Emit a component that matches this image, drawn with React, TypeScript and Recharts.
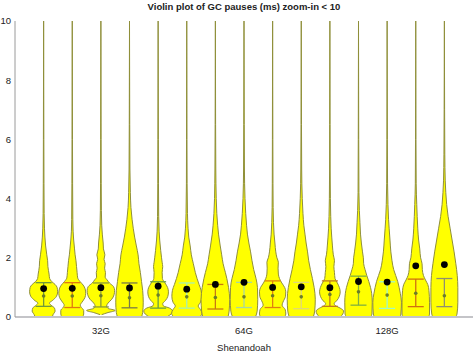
import React from "react";
import { ComposedChart, Area, Scatter, ErrorBar, XAxis, YAxis } from "recharts";

const groups = ["32G", "64G", "128G"];
const groupTicks = [3, 8, 13];
const yTicks = [0, 2, 4, 6, 8, 10];

// violin outlines: [pause (ms), half width]
const v1 = [[0, 0.3], [0.08, 0.33], [0.2, 0.4], [0.3, 0.38], [0.4, 0.26], [0.47, 0.2], [0.55, 0.3], [0.7, 0.45], [0.85, 0.49], [1.0, 0.47], [1.1, 0.4], [1.2, 0.28], [1.3, 0.21], [1.45, 0.19], [1.7, 0.15], [1.9, 0.14], [2.1, 0.11], [2.4, 0.07], [2.7, 0.045], [3.0, 0.03], [3.5, 0.018], [4.5, 0.012], [6, 0.008], [10, 0]];
const v2 = [[0, 0.36], [0.1, 0.4], [0.22, 0.4], [0.32, 0.32], [0.4, 0.28], [0.5, 0.34], [0.65, 0.44], [0.8, 0.47], [0.95, 0.45], [1.08, 0.38], [1.2, 0.27], [1.32, 0.19], [1.5, 0.17], [1.7, 0.15], [1.9, 0.13], [2.1, 0.1], [2.3, 0.08], [2.6, 0.05], [2.9, 0.03], [3.3, 0.02], [4.5, 0.012], [6, 0.008], [10, 0]];
const v3 = [[0.08, 0.03], [0.15, 0.25], [0.22, 0.5], [0.29, 0.25], [0.37, 0.2], [0.47, 0.25], [0.6, 0.38], [0.75, 0.46], [0.9, 0.48], [1.03, 0.44], [1.15, 0.3], [1.25, 0.22], [1.35, 0.15], [1.5, 0.16], [1.65, 0.13], [1.8, 0.15], [1.95, 0.11], [2.1, 0.14], [2.3, 0.09], [2.5, 0.08], [2.8, 0.05], [3.1, 0.03], [3.6, 0.018], [4.5, 0.012], [6, 0.008], [10, 0]];
const v4 = [[0, 0.42], [0.15, 0.46], [0.5, 0.48], [0.9, 0.46], [1.2, 0.42], [1.5, 0.38], [1.8, 0.33], [2.1, 0.3], [2.4, 0.24], [2.7, 0.18], [3.0, 0.13], [3.3, 0.09], [3.7, 0.05], [4.2, 0.03], [5, 0.015], [6.5, 0.008], [10, 0]];
const v5 = [[0, 0.3], [0.1, 0.45], [0.2, 0.5], [0.3, 0.4], [0.38, 0.18], [0.45, 0.16], [0.55, 0.25], [0.7, 0.34], [0.85, 0.36], [1.0, 0.33], [1.15, 0.24], [1.3, 0.15], [1.5, 0.14], [1.7, 0.16], [1.85, 0.14], [2.0, 0.12], [2.25, 0.09], [2.6, 0.055], [2.9, 0.035], [3.4, 0.02], [4.5, 0.012], [6, 0.008], [10, 0]];
const v6 = [[0, 0.45], [0.12, 0.53], [0.25, 0.48], [0.37, 0.4], [0.5, 0.48], [0.7, 0.52], [0.9, 0.5], [1.1, 0.43], [1.3, 0.36], [1.5, 0.3], [1.8, 0.23], [2.1, 0.16], [2.4, 0.12], [2.7, 0.07], [3.0, 0.045], [3.5, 0.025], [4.5, 0.012], [6, 0.008], [10, 0]];
const v7 = [[0, 0.44], [0.2, 0.48], [0.6, 0.5], [1.0, 0.46], [1.3, 0.4], [1.5, 0.35], [1.8, 0.27], [2.1, 0.22], [2.4, 0.17], [2.8, 0.11], [3.1, 0.08], [3.5, 0.05], [4.0, 0.03], [5, 0.015], [6.5, 0.008], [10, 0]];
const v8 = [[0, 0.4], [0.2, 0.46], [0.6, 0.48], [1.0, 0.47], [1.3, 0.42], [1.6, 0.34], [1.9, 0.28], [2.2, 0.23], [2.5, 0.17], [2.8, 0.12], [3.1, 0.09], [3.5, 0.06], [4.0, 0.035], [5, 0.015], [6.5, 0.008], [10, 0]];
const v9 = [[0, 0.42], [0.1, 0.46], [0.25, 0.44], [0.4, 0.33], [0.5, 0.36], [0.7, 0.45], [0.85, 0.46], [1.0, 0.42], [1.15, 0.32], [1.3, 0.24], [1.45, 0.2], [1.65, 0.19], [1.85, 0.2], [2.0, 0.15], [2.2, 0.11], [2.5, 0.08], [2.8, 0.05], [3.2, 0.03], [3.7, 0.018], [4.5, 0.012], [6, 0.008], [10, 0]];
const v10 = [[0, 0.42], [0.2, 0.47], [0.6, 0.49], [1.0, 0.45], [1.3, 0.39], [1.6, 0.32], [1.9, 0.26], [2.2, 0.22], [2.5, 0.17], [2.8, 0.13], [3.1, 0.09], [3.5, 0.06], [4.0, 0.035], [5, 0.015], [6.5, 0.008], [10, 0]];
const v11 = [[0, 0.36], [0.1, 0.45], [0.2, 0.48], [0.3, 0.36], [0.38, 0.2], [0.46, 0.15], [0.55, 0.24], [0.7, 0.33], [0.85, 0.36], [1.0, 0.33], [1.15, 0.26], [1.3, 0.18], [1.5, 0.16], [1.7, 0.14], [1.9, 0.16], [2.1, 0.12], [2.4, 0.09], [2.7, 0.065], [3.0, 0.045], [3.4, 0.03], [4.0, 0.018], [5, 0.01], [6.5, 0.007], [10, 0]];
const v12 = [[0, 0.42], [0.1, 0.47], [0.5, 0.48], [0.8, 0.46], [1.0, 0.42], [1.2, 0.36], [1.4, 0.29], [1.6, 0.23], [1.8, 0.18], [2.0, 0.17], [2.2, 0.14], [2.5, 0.1], [2.8, 0.07], [3.2, 0.05], [3.6, 0.03], [4.2, 0.015], [6, 0.008], [10, 0]];
const v13 = [[0, 0.45], [0.1, 0.48], [0.5, 0.5], [0.8, 0.46], [1.0, 0.42], [1.2, 0.37], [1.4, 0.3], [1.6, 0.23], [1.9, 0.17], [2.2, 0.13], [2.6, 0.1], [3.0, 0.07], [3.3, 0.05], [3.8, 0.03], [4.5, 0.015], [6, 0.008], [10, 0]];
const v14 = [[0, 0.45], [0.1, 0.48], [0.5, 0.48], [0.9, 0.46], [1.1, 0.42], [1.25, 0.34], [1.4, 0.27], [1.6, 0.23], [1.8, 0.22], [2.0, 0.17], [2.3, 0.14], [2.6, 0.1], [3.0, 0.07], [3.4, 0.05], [3.8, 0.035], [4.5, 0.015], [6, 0.008], [10, 0]];
const v15 = [[0, 0.4], [0.1, 0.44], [0.5, 0.47], [1.0, 0.47], [1.4, 0.45], [1.8, 0.4], [2.2, 0.34], [2.6, 0.27], [3.0, 0.2], [3.4, 0.13], [3.8, 0.08], [4.2, 0.05], [4.6, 0.03], [5.5, 0.015], [7, 0.008], [10, 0]];

const profiles = [v1, v2, v3, v4, v5, v6, v7, v8, v9, v10, v11, v12, v13, v14, v15];

const means = [0.96, 0.97, 0.99, 0.98, 1.04, 0.94, 1.1, 1.17, 1.0, 1.02, 0.99, 1.2, 1.18, 1.73, 1.77];
const medians = [0.71, 0.71, 0.72, 0.65, 0.74, 0.68, 0.66, 0.68, 0.72, 0.68, 0.76, 0.85, 0.74, 0.8, 0.72];
const errLow = [0.36, 0.32, 0.34, 0.31, 0.3, 0.3, 0.27, 0.32, 0.32, 0.28, 0.36, 0.4, 0.29, 0.35, 0.35];
const errHigh = [1.16, 1.16, 1.15, 1.15, 1.19, 1.15, 1.1, 1.17, 1.22, 1.17, 1.22, 1.38, 1.19, 1.28, 1.3];
const errColors = ["#6f9a3c", "#e07a10", "#8a9a3a", "#7a7a48", "#6aa040", "#a8f0b0", "#c87a10", "#a8d8a0", "#e08010", "#e0d878", "#c07a20", "#80b040", "#a0f8c8", "#d07010", "#909070"];

const fmtGroup = (v: number) => groups[groupTicks.indexOf(v)] ?? "";

export default function App() {
  const font = "'Liberation Sans', Arial, sans-serif";
  return (
    <div style={{ position: "absolute", left: 0, top: 0, width: 474, height: 353, background: "#fff", fontFamily: font }}>
      <div
        style={{
          position: "absolute",
          left: 15,
          width: 458,
          top: 1,
          textAlign: "center",
          fontSize: 9.5,
          fontWeight: "bold",
          color: "#222",
        }}
      >
        Violin plot of GC pauses (ms) zoom-in &lt; 10
      </div>
      <ComposedChart
        width={474}
        height={353}
        layout="vertical"
        margin={{ top: 21, right: 1, left: 0, bottom: 0 }}
      >
        <XAxis
          type="number"
          dataKey="x"
          domain={[0, 16]}
          allowDataOverflow
          ticks={groupTicks}
          tickFormatter={fmtGroup}
          tick={{ fill: "#222", fontSize: 9.5, fontFamily: font }}
          tickLine={false}
          tickSize={0}
          tickMargin={10}
          axisLine={{ stroke: "#c4c4c8", strokeWidth: 2 }}
          height={36}
          label={{ value: "Shenandoah", position: "insideBottom", offset: 2, fill: "#222", fontSize: 9.5, fontFamily: font }}
        />
        <YAxis
          type="number"
          dataKey="y"
          domain={[0, 10]}
          allowDataOverflow
          reversed
          ticks={yTicks}
          interval={0}
          tick={{ fill: "#222", fontSize: 9.5, fontFamily: font }}
          tickLine={false}
          tickSize={0}
          tickMargin={4}
          axisLine={{ stroke: "#9a9a9a", strokeWidth: 1 }}
          width={15}
        />
        {profiles.map((p, i) => (
          <Area
            key={`violin-${i}`}
            data={p.map(([y, w]) => ({ y, span: [i + 1 - w, i + 1 + w] }))}
            dataKey="span"
            type="monotone"
            fill="#ffff00"
            fillOpacity={1}
            stroke="#8f8f3a"
            strokeWidth={1}
            dot={false}
            activeDot={false}
            isAnimationActive={false}
          />
        ))}
        {medians.map((m, i) => (
          <Scatter
            key={`stats-${i}`}
            data={[{ x: i + 1, y: m, err: [m - errLow[i], errHigh[i] - m] }]}
            shape={(props: any) => <circle cx={props.cx} cy={props.cy} r={1.8} fill="#6b7d2a" />}
            isAnimationActive={false}
          >
            <ErrorBar dataKey="err" direction="y" width={8} stroke={errColors[i]} strokeWidth={1.3} />
          </Scatter>
        ))}
        <Scatter
          data={means.map((m, i) => ({ x: i + 1, y: m }))}
          shape={(props: any) => <circle cx={props.cx} cy={props.cy} r={3.4} fill="#000" />}
          isAnimationActive={false}
        />
      </ComposedChart>
    </div>
  );
}
